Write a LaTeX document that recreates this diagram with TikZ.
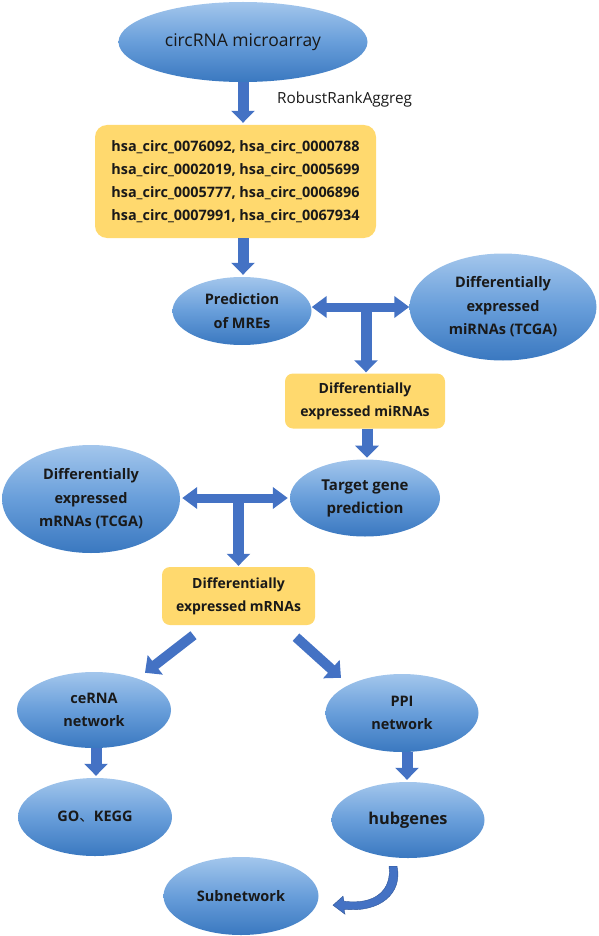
\documentclass[tikz,border=0pt]{standalone}
\usepackage{fontspec}
\setmainfont{Open Sans}
\IfFontExistsTF{Open Sans SemiBold}{\newfontfamily\semibf{Open Sans SemiBold}}{\newfontfamily\semibf{Open Sans}[UprightFont=*-Bold]}
\newfontfamily\cjk{Noto Sans CJK SC}
\usetikzlibrary{shapes.geometric,arrows.meta,calc}
\definecolor{elltop}{RGB}{163,198,236}
\definecolor{ellmid}{RGB}{104,158,218}
\definecolor{ellbot}{RGB}{58,120,192}
\definecolor{arrowblue}{RGB}{68,114,196}
\definecolor{arrowline}{RGB}{47,85,151}
\definecolor{boxyellow}{RGB}{255,217,110}
\definecolor{txt}{RGB}{25,25,25}
\tikzset{
  ell/.style={ellipse, inner sep=0pt, top color=elltop, bottom color=ellbot, middle color=ellmid, draw=none, align=center, text=txt, font=\semibf\fontsize{14.5}{23.5}\selectfont},
  ybox/.style={rectangle, rounded corners=8pt, fill=boxyellow, draw=none, inner sep=0pt, align=center, text=txt, font=\semibf\fontsize{14}{23}\selectfont},
  varrow/.style={draw=arrowblue, line width=11pt, -{Triangle[length=12pt,width=23pt]}},
  harrow/.style={draw=arrowblue, line width=9pt, {Triangle[length=15pt,width=21pt]}-{Triangle[length=15pt,width=21pt]}},
  darrow/.style={draw=arrowblue, line width=10pt, -{Triangle[length=13pt,width=24pt]}}
}
\begin{document}
\begin{tikzpicture}[x=1pt,y=-1pt]
\useasboundingbox (0,0) rectangle (598,936);
\node[ell, minimum width=249pt, minimum height=80pt, font=\fontsize{17.5}{21}\selectfont] (cm) at (243,42) {circRNA microarray};
\node[anchor=west, text=txt, font=\fontsize{15.3}{18}\selectfont, inner sep=0pt] (rra) at (277,100) {RobustRankAggreg};
\node[ybox, rounded corners=12pt, minimum width=281pt, minimum height=113pt, font=\semibf\fontsize{14.4}{23}\selectfont] (box1) at (235.5,181.5) {hsa\_circ\_0076092, hsa\_circ\_0000788\\hsa\_circ\_0002019, hsa\_circ\_0005699\\hsa\_circ\_0005777, hsa\_circ\_0006896\\hsa\_circ\_0007991, hsa\_circ\_0067934};
\node[ell, minimum width=139pt, minimum height=68pt] (pred) at (242,311) {Prediction\\of MREs};
\node[ell, minimum width=187pt, minimum height=107pt] (demi) at (503,307) {Differentially\\expressed\\miRNAs (TCGA)};
\node[ybox, minimum width=160pt, minimum height=55pt] (box2) at (365,401) {Differentially\\expressed miRNAs};
\node[ell, minimum width=150pt, minimum height=77pt, font=\semibf\fontsize{15}{23}\selectfont] (tgp) at (365,498) {Target gene\\prediction};
\node[ell, minimum width=178pt, minimum height=108pt] (dem) at (91,499) {Differentially\\expressed\\mRNAs (TCGA)};
\node[ybox, minimum width=153pt, minimum height=58pt] (box3) at (238.5,596) {Differentially\\expressed mRNAs};
\node[ell, minimum width=154pt, minimum height=76pt] (cer) at (94,710) {ceRNA\\network};
\node[ell, minimum width=153pt, minimum height=78pt] (ppi) at (402,713) {PPI\\network};
\node[ell, minimum width=154pt, minimum height=78pt] (go) at (95,817) {GO{\cjk 、}KEGG};
\node[ell, minimum width=153pt, minimum height=76pt, font=\semibf\fontsize{16.3}{20}\selectfont] (hub) at (408,820) {hubgenes};
\node[ell, minimum width=155pt, minimum height=78pt] (sub) at (241,896) {Subnetwork};
% arrows
\draw[varrow] (cm.south) -- ($(cm.south |- box1.north)+(0,-2)$);
\draw[varrow] ($(pred.north |- box1.south)+(1,0)$) -- ($(pred.north)+(1,-2)$);
\draw[harrow] (pred.east |- demi.west) -- (demi.west);
\draw[varrow] ($(box2.north |- demi.west)+(1,0)$) -- ($(box2.north)+(1,-1)$);
\draw[varrow] ($(box2.south)+(2,0)$) -- ($(box2.south)+(2,29)$);
\draw[harrow] ($(dem.east |- tgp.west)+(2,0)$) -- ($(tgp.west)+(-2,0)$);
\draw[varrow] (box3.north |- tgp.west) -- ($(box3.north)+(0,-1)$);
\draw[darrow] ($(box3.south)+(-45,10)$) -- ($(cer.north)+(51,1)$);
\draw[darrow] ($(box3.south)+(57.5,12)$) -- ($(ppi.north)+(-61,4)$);
\draw[varrow] ($(cer.south)+(2,0)$) -- ($(cer.south |- go.north)+(2,-2)$);
\draw[varrow] ($(hub.north |- ppi.south)+(-1,0)$) -- ($(hub.north)+(-1,-2)$);
\begin{scope}[shift={(hub.south)}]
\fill[arrowblue, draw=arrowline, line width=0.4pt] (-11,8) .. controls (-5,35) and (-28,55) .. (-64,51) -- (-63,56) -- (-75,47) -- (-65,38) -- (-64,43) .. controls (-33,47) and (-16,32) .. (-19,8) -- cycle;
\end{scope}
\end{tikzpicture}
\end{document}
